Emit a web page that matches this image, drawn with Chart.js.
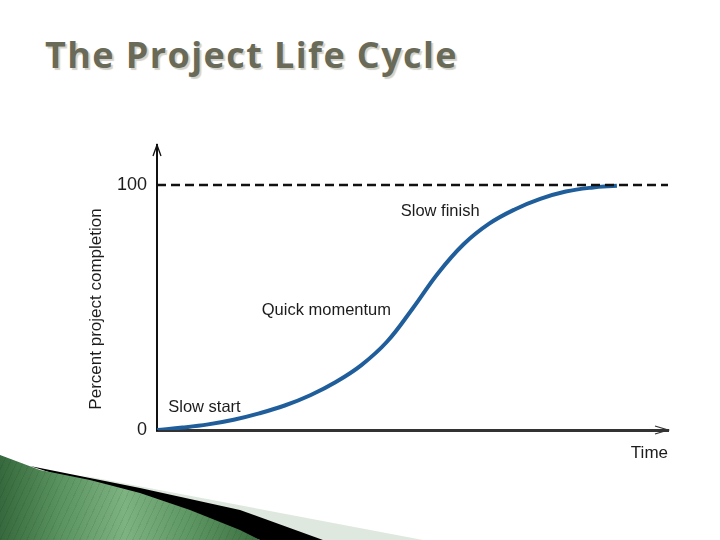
<!DOCTYPE html>
<html>
<head>
<meta charset="utf-8">
<script src="https://cdn.jsdelivr.net/npm/chart.js@4.4.1/dist/chart.umd.min.js"></script>
<style>
html,body{margin:0;padding:0;background:#fff;width:720px;height:540px;overflow:hidden;}
#wrap{position:relative;width:720px;height:540px;}
#title{position:absolute;left:45px;top:37px;font-family:'Open Sans',sans-serif;font-weight:700;font-size:36px;letter-spacing:1.4px;line-height:1;color:#6a6a58;text-shadow:2px 2px 1px #d2d2ca;white-space:nowrap;}
.deco{position:absolute;left:0;top:0;width:720px;height:540px;}
#gGray{background:#dfe8df;clip-path:polygon(80px 475px,423px 540px,323px 540px);}
#gBlack{background:#000;clip-path:polygon(35px 467px,140px 488px,240px 510px,323px 540px,260px 540px,30px 466px);}
#gGreen{background:repeating-linear-gradient(115deg,rgba(0,0,0,0.07) 0px,rgba(0,0,0,0.07) 1px,rgba(0,0,0,0) 1px,rgba(0,0,0,0) 6px),linear-gradient(90deg,#36693d 0px,#5a935f 60px,#7db281 125px,#5e9763 190px,#3b6f41 260px);
clip-path:polygon(0px 455px,40px 470px,90px 480px,140px 493px,190px 510px,240px 530px,260px 540px,0px 540px);}
#chart{position:absolute;left:0;top:0;}
</style>
</head>
<body>
<div id="wrap">
  <div class="deco" id="gGray"></div>
  <div class="deco" id="gBlack"></div>
  <div class="deco" id="gGreen"></div>
  <div id="title">The Project Life Cycle</div>
  <canvas id="chart" width="720" height="540"></canvas>
</div>
<script>
// ---- data ----
const timeValues       = [0, 5, 10, 15, 20, 25, 30, 35, 40, 45, 50, 55, 60, 65, 70, 75, 80, 85, 90];
const completionValues = [0, 1, 2.3, 4.2, 6.8, 10, 14.2, 19.6, 26.5, 36, 49.5, 64, 75.8, 84.2, 90, 94.3, 97.3, 98.9, 99.7];
const targetTime       = [0, 100];
const targetValues     = [100, 100];
const yTickValues      = [0, 100];
const yTickLabels      = ['0', '100'];
const phaseLabels      = ['Slow start', 'Quick momentum', 'Slow finish'];
const yAxisTitle       = 'Percent project completion';
const xAxisTitle       = 'Time';

const curvePoints  = timeValues.map((t, i) => ({x: t, y: completionValues[i]}));
const targetPoints = targetTime.map((t, i) => ({x: t, y: targetValues[i]}));

// label anchors in data coordinates (left edge, vertical centre)
const phaseAnchors = [{x: 2.2, y: 9.4}, {x: 20.5, y: 48.6}, {x: 47.7, y: 89}];

const textFont = "'Liberation Sans', Arial, sans-serif";

const decorPlugin = {
  id: 'decor',
  afterDraw(chart) {
    const {ctx, chartArea: a, scales: {x, y}} = chart;
    ctx.save();
    // arrow heads
    ctx.strokeStyle = '#111';
    ctx.lineWidth = 1.3;
    ctx.beginPath();
    ctx.moveTo(a.left - 4, a.top + 11);
    ctx.lineTo(a.left, a.top);
    ctx.lineTo(a.left + 4, a.top + 11);
    ctx.stroke();
    ctx.strokeStyle = '#333';
    ctx.beginPath();
    ctx.moveTo(a.right - 13, a.bottom - 4);
    ctx.lineTo(a.right, a.bottom);
    ctx.lineTo(a.right - 13, a.bottom + 4);
    ctx.stroke();
    // y axis title
    ctx.fillStyle = '#1c1c1c';
    ctx.font = "17px " + textFont;
    ctx.textAlign = 'center';
    ctx.textBaseline = 'middle';
    ctx.translate(96, 309);
    ctx.rotate(-Math.PI / 2);
    ctx.fillText(yAxisTitle, 0, 0);
    ctx.restore();
    // phase labels
    ctx.save();
    ctx.fillStyle = '#1c1c1c';
    ctx.font = "16.5px " + textFont;
    ctx.textAlign = 'left';
    ctx.textBaseline = 'middle';
    phaseLabels.forEach((txt, i) => {
      ctx.fillText(txt, x.getPixelForValue(phaseAnchors[i].x), y.getPixelForValue(phaseAnchors[i].y));
    });
    ctx.restore();
  }
};

new Chart(document.getElementById('chart'), {
  type: 'line',
  data: {
    datasets: [
      {
        data: targetPoints,
        borderColor: '#111',
        borderWidth: 2.5,
        borderDash: [9, 5],
        pointRadius: 0,
        fill: false
      },
      {
        data: curvePoints,
        borderColor: '#1f5e9b',
        borderWidth: 4,
        pointRadius: 0,
        tension: 0.4,
        fill: false
      }
    ]
  },
  options: {
    responsive: false,
    animation: false,
    events: [],
    layout: {padding: {top: 145, right: 52, left: 0, bottom: 0}},
    plugins: {legend: {display: false}, tooltip: {enabled: false}, title: {display: false}},
    scales: {
      x: {
        type: 'linear',
        min: 0,
        max: 100,
        grid: {display: false, drawTicks: false},
        border: {display: true, color: '#333', width: 3},
        ticks: {display: false},
        title: {display: true, text: xAxisTitle, align: 'end', color: '#1c1c1c',
                font: {family: textFont, size: 17}, padding: {top: 0, bottom: 76}},
        afterFit(s) { s.height = 110; }
      },
      y: {
        type: 'linear',
        min: 0,
        max: 116.3,
        grid: {display: false, drawTicks: false},
        border: {display: true, color: '#111', width: 2},
        afterBuildTicks(s) { s.ticks = yTickValues.map(v => ({value: v})); },
        ticks: {
          color: '#1c1c1c',
          padding: 10,
          font: {family: textFont, size: 18},
          callback(v) { const i = yTickValues.indexOf(v); return i >= 0 ? yTickLabels[i] : ''; }
        },
        afterFit(s) { s.width = 157; }
      }
    }
  },
  plugins: [decorPlugin]
});
</script>
</body>
</html>
